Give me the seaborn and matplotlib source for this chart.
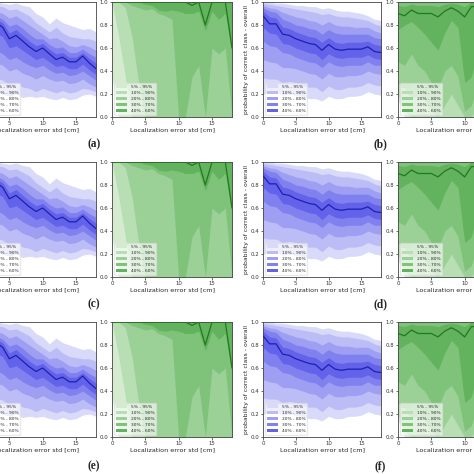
import numpy as np
import matplotlib
matplotlib.use("Agg")
import matplotlib.pyplot as plt
import seaborn as sns

# x axis: localization error std [cm]
err_std = np.arange(19)

band_labels = ["5% - 95%", "10% - 90%", "20% - 80%", "30% - 70%", "40% - 60%"]

# ---- left column, blue panel (a, c, e)
ab_q05 = [0.30, 0.27, 0.24, 0.22, 0.20, 0.18, 0.20, 0.17, 0.18, 0.17, 0.18, 0.16, 0.15, 0.17, 0.15, 0.16, 0.19, 0.20, 0.18]
ab_q10 = [0.45, 0.40, 0.36, 0.34, 0.32, 0.28, 0.30, 0.26, 0.25, 0.22, 0.25, 0.23, 0.21, 0.23, 0.21, 0.22, 0.25, 0.24, 0.22]
ab_q20 = [0.60, 0.54, 0.50, 0.47, 0.45, 0.40, 0.42, 0.38, 0.36, 0.33, 0.36, 0.33, 0.31, 0.32, 0.29, 0.30, 0.33, 0.29, 0.26]
ab_q30 = [0.75, 0.68, 0.63, 0.58, 0.55, 0.50, 0.52, 0.48, 0.45, 0.43, 0.45, 0.41, 0.38, 0.39, 0.36, 0.37, 0.40, 0.36, 0.32]
ab_q40 = [0.85, 0.80, 0.76, 0.73, 0.70, 0.60, 0.62, 0.58, 0.54, 0.50, 0.52, 0.48, 0.44, 0.45, 0.42, 0.42, 0.46, 0.41, 0.37]
ab_med = [0.92, 0.88, 0.85, 0.82, 0.78, 0.68, 0.71, 0.66, 0.61, 0.57, 0.60, 0.55, 0.50, 0.52, 0.48, 0.48, 0.53, 0.47, 0.42]
ab_q60 = [0.95, 0.91, 0.88, 0.85, 0.82, 0.73, 0.76, 0.71, 0.66, 0.62, 0.64, 0.59, 0.55, 0.56, 0.52, 0.52, 0.56, 0.51, 0.47]
ab_q70 = [0.97, 0.94, 0.91, 0.88, 0.85, 0.79, 0.81, 0.77, 0.72, 0.68, 0.68, 0.63, 0.60, 0.61, 0.56, 0.56, 0.59, 0.55, 0.52]
ab_q80 = [0.98, 0.96, 0.94, 0.92, 0.90, 0.86, 0.88, 0.84, 0.80, 0.76, 0.72, 0.68, 0.69, 0.66, 0.62, 0.61, 0.63, 0.61, 0.58]
ab_q90 = [1.00, 0.99, 0.98, 0.97, 0.96, 0.93, 0.94, 0.91, 0.88, 0.82, 0.78, 0.74, 0.78, 0.73, 0.70, 0.69, 0.68, 0.68, 0.66]
ab_q95 = [1.00, 1.00, 1.00, 1.00, 0.99, 0.98, 0.99, 0.97, 0.96, 0.90, 0.87, 0.81, 0.86, 0.82, 0.80, 0.78, 0.76, 0.77, 0.74]

# ---- left column, green panel
ag_q05 = [0.35, 0.00, 0.00, 0.00, 0.00, 0.00, 0.00, 0.00, 0.00, 0.00, 0.00, 0.00, 0.00, 0.00, 0.00, 0.00, 0.00, 0.00, 0.00]
ag_q10 = [1.00, 0.70, 0.35, 0.00, 0.00, 0.00, 0.00, 0.00, 0.00, 0.00, 0.00, 0.00, 0.00, 0.00, 0.00, 0.00, 0.00, 0.00, 0.00]
ag_q20 = [1.00, 1.00, 0.95, 0.70, 0.30, 0.00, 0.00, 0.00, 0.00, 0.00, 0.00, 0.00, 0.00, 0.00, 0.00, 0.00, 0.00, 0.00, 0.00]
ag_q30 = [1.00, 1.00, 1.00, 0.97, 0.95, 0.93, 0.94, 0.90, 0.88, 0.85, 0.00, 0.00, 0.35, 0.45, 0.00, 0.60, 0.55, 0.60, 0.00]
ag_q40 = [1.00, 1.00, 1.00, 1.00, 1.00, 0.98, 0.97, 0.93, 0.92, 0.93, 0.92, 0.90, 0.90, 0.92, 0.75, 0.92, 0.85, 0.90, 0.55]
ag_med = [1.00, 1.00, 1.00, 1.00, 1.00, 1.00, 1.00, 1.00, 1.00, 1.00, 1.00, 1.00, 0.97, 1.00, 0.80, 1.00, 1.00, 1.00, 0.60]
ag_q60 = [1.00, 1.00, 1.00, 1.00, 1.00, 1.00, 1.00, 1.00, 1.00, 1.00, 1.00, 1.00, 1.00, 1.00, 1.00, 1.00, 1.00, 1.00, 1.00]
ag_q70 = ag_q60
ag_q80 = ag_q60
ag_q90 = ag_q60
ag_q95 = ag_q60

# ---- right column, blue panel (b, d, f)
bb_q05 = [0.20, 0.21, 0.22, 0.19, 0.20, 0.19, 0.18, 0.16, 0.16, 0.14, 0.18, 0.16, 0.16, 0.18, 0.18, 0.19, 0.22, 0.20, 0.19]
bb_q10 = [0.34, 0.33, 0.33, 0.30, 0.31, 0.30, 0.28, 0.26, 0.26, 0.22, 0.27, 0.24, 0.24, 0.26, 0.26, 0.27, 0.30, 0.28, 0.27]
bb_q20 = [0.50, 0.48, 0.47, 0.43, 0.43, 0.42, 0.40, 0.38, 0.37, 0.33, 0.38, 0.35, 0.35, 0.36, 0.36, 0.37, 0.40, 0.38, 0.37]
bb_q30 = [0.66, 0.62, 0.61, 0.56, 0.55, 0.52, 0.50, 0.48, 0.47, 0.43, 0.48, 0.45, 0.44, 0.45, 0.45, 0.45, 0.48, 0.45, 0.45]
bb_q40 = [0.78, 0.73, 0.72, 0.64, 0.63, 0.60, 0.58, 0.56, 0.55, 0.50, 0.55, 0.52, 0.51, 0.52, 0.52, 0.52, 0.54, 0.51, 0.50]
bb_med = [0.88, 0.81, 0.81, 0.72, 0.71, 0.68, 0.66, 0.64, 0.63, 0.58, 0.63, 0.59, 0.58, 0.59, 0.59, 0.59, 0.61, 0.57, 0.56]
bb_q60 = [0.92, 0.87, 0.86, 0.78, 0.77, 0.74, 0.72, 0.70, 0.69, 0.65, 0.69, 0.65, 0.64, 0.65, 0.65, 0.65, 0.66, 0.63, 0.62]
bb_q70 = [0.95, 0.92, 0.91, 0.85, 0.83, 0.80, 0.79, 0.77, 0.76, 0.72, 0.76, 0.73, 0.72, 0.72, 0.72, 0.72, 0.72, 0.69, 0.68]
bb_q80 = [0.97, 0.95, 0.94, 0.91, 0.89, 0.87, 0.86, 0.84, 0.83, 0.80, 0.83, 0.80, 0.79, 0.79, 0.78, 0.78, 0.78, 0.75, 0.73]
bb_q90 = [0.99, 0.98, 0.97, 0.96, 0.95, 0.94, 0.93, 0.92, 0.91, 0.89, 0.90, 0.88, 0.87, 0.87, 0.86, 0.85, 0.84, 0.81, 0.79]
bb_q95 = [1.00, 1.00, 0.99, 0.99, 0.98, 0.97, 0.97, 0.96, 0.96, 0.94, 0.95, 0.93, 0.92, 0.92, 0.91, 0.90, 0.88, 0.85, 0.84]

# ---- right column, green panel
bg_q05 = [0.15, 0.00, 0.00, 0.00, 0.00, 0.00, 0.00, 0.00, 0.00, 0.00, 0.00, 0.00, 0.00, 0.00, 0.00, 0.00, 0.00, 0.00, 0.00]
bg_q10 = [0.20, 0.05, 0.00, 0.00, 0.00, 0.00, 0.00, 0.00, 0.00, 0.00, 0.00, 0.00, 0.00, 0.00, 0.00, 0.00, 0.00, 0.00, 0.00]
bg_q20 = [0.30, 0.25, 0.15, 0.20, 0.15, 0.05, 0.00, 0.10, 0.20, 0.10, 0.00, 0.00, 0.10, 0.15, 0.10, 0.10, 0.15, 0.10, 0.10]
bg_q30 = [0.48, 0.45, 0.55, 0.45, 0.40, 0.30, 0.25, 0.40, 0.45, 0.35, 0.05, 0.10, 0.30, 0.40, 0.40, 0.35, 0.45, 0.40, 0.40]
bg_q40 = [0.76, 0.80, 0.83, 0.78, 0.72, 0.65, 0.58, 0.73, 0.84, 0.78, 0.30, 0.35, 0.60, 0.70, 0.75, 0.70, 0.80, 0.75, 0.70]
bg_med = [0.90, 0.88, 0.93, 0.90, 0.90, 0.90, 0.87, 0.92, 0.95, 0.92, 0.87, 0.96, 0.96, 0.95, 0.96, 0.95, 0.97, 0.96, 0.95]
bg_q60 = [0.97, 0.96, 0.98, 0.97, 0.97, 0.97, 0.96, 0.98, 0.99, 0.98, 0.96, 1.00, 1.00, 0.99, 1.00, 0.99, 1.00, 1.00, 0.99]
bg_q70 = [1.00, 1.00, 1.00, 1.00, 1.00, 1.00, 1.00, 1.00, 1.00, 1.00, 1.00, 1.00, 1.00, 1.00, 1.00, 1.00, 1.00, 1.00, 1.00]
bg_q80 = bg_q70
bg_q90 = bg_q70
bg_q95 = bg_q70

panel_letters = ["(a)", "(b)", "(c)", "(d)", "(e)", "(f)"]

blue_fill = ["#d9d9fa", "#bcbcf6", "#9e9ef3", "#8080ef", "#6262eb"]
green_fill = ["#d4ebd0", "#b8deb3", "#9bd096", "#7fc27a", "#63b35e"]

sns.set_theme(style="ticks")
plt.rcParams["font.family"] = ["DejaVu Sans"]
plt.rcParams["axes.linewidth"] = 0.6
plt.rcParams["axes.edgecolor"] = "#444444"


def draw_panel(ax, lows, highs, med, fills, line_col, ylabel=None):
    for lo, hi, col, lab in zip(lows, highs, fills, band_labels):
        ax.fill_between(err_std, lo, hi, color=col, linewidth=0, label=lab)
    sns.lineplot(x=err_std, y=med, ax=ax, color=line_col, linewidth=0.9, zorder=5)
    ax.set_xlim(0, 18)
    ax.set_ylim(0, 1)
    ax.set_xticks([0, 5, 10, 15])
    ax.set_yticks([0, 0.2, 0.4, 0.6, 0.8, 1.0])
    ax.tick_params(labelsize=3.9, length=1.8, width=0.5, pad=1, colors="#333333")
    ax.set_xlabel("Localization error std [cm]", fontsize=4.6, labelpad=1)
    if ylabel:
        ax.set_ylabel(ylabel, fontsize=4.4, labelpad=1)
    ax.legend(loc="lower left", fontsize=3.2, handlelength=2.5, borderaxespad=0.5,
              labelspacing=0.45, framealpha=0.6, edgecolor="#dddddd")


W = 474.0
fig = plt.figure(figsize=(4.74, 4.74), dpi=100)

ylab = "probability of correct class - overall"
row_tops = [2, 162, 322]
for r, top in enumerate(row_tops):
    h = 115
    bottom = 1 - (top + h) / W
    ax1 = fig.add_axes([-24 / W, bottom, 120 / W, h / W])
    draw_panel(ax1, [ab_q05, ab_q10, ab_q20, ab_q30, ab_q40],
               [ab_q95, ab_q90, ab_q80, ab_q70, ab_q60], ab_med,
               blue_fill, "#2020b0", ylab)
    ax2 = fig.add_axes([112 / W, bottom, 120 / W, h / W])
    draw_panel(ax2, [ag_q05, ag_q10, ag_q20, ag_q30, ag_q40],
               [ag_q95, ag_q90, ag_q80, ag_q70, ag_q60], ag_med,
               green_fill, "#1f7a1f")
    ax3 = fig.add_axes([263 / W, bottom, 118 / W, h / W])
    draw_panel(ax3, [bb_q05, bb_q10, bb_q20, bb_q30, bb_q40],
               [bb_q95, bb_q90, bb_q80, bb_q70, bb_q60], bb_med,
               blue_fill, "#2020b0", ylab)
    ax4 = fig.add_axes([398 / W, bottom, 120 / W, h / W])
    draw_panel(ax4, [bg_q05, bg_q10, bg_q20, bg_q30, bg_q40],
               [bg_q95, bg_q90, bg_q80, bg_q70, bg_q60], bg_med,
               green_fill, "#1f7a1f")

    label_y = 1 - (top + 142) / W if r < 2 else 1 - 466 / W
    fig.text(94 / W, label_y, panel_letters[2 * r], ha="center", va="center",
             fontsize=8.3, fontweight="bold", family=["Liberation Serif", "DejaVu Serif"])
    fig.text(380 / W, label_y, panel_letters[2 * r + 1], ha="center", va="center",
             fontsize=8.3, fontweight="bold", family=["Liberation Serif", "DejaVu Serif"])

fig.savefig("out.png", dpi=100)
